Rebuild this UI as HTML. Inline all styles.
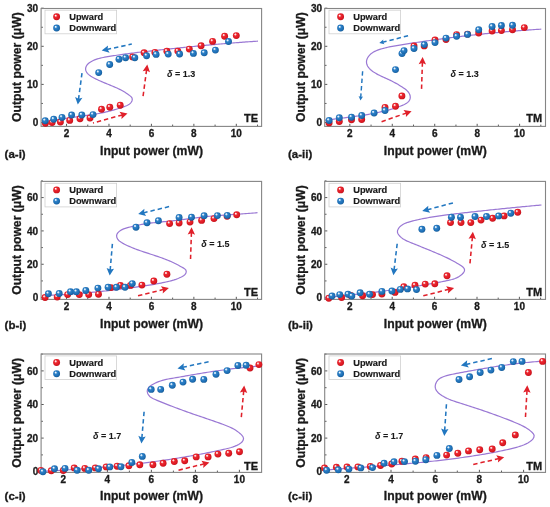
<!DOCTYPE html>
<html><head><meta charset="utf-8"><title>Optical bistability</title>
<style>
html,body{margin:0;padding:0;background:#fff;}
body{width:550px;height:507px;overflow:hidden;}
svg{display:block;filter:blur(0.3px);}
text{font-family:"Liberation Sans",sans-serif;fill:#1a1a1a;stroke:#1a1a1a;stroke-width:0.3px;}
</style></head><body>
<svg width="550" height="507" viewBox="0 0 550 507">
<defs>
<radialGradient id="gr" cx="0.45" cy="0.45" r="0.6" fx="0.34" fy="0.3">
<stop offset="0" stop-color="#ffffff"/><stop offset="0.16" stop-color="#fbc4c6"/><stop offset="0.34" stop-color="#ec2a32"/>
<stop offset="0.75" stop-color="#dc1822"/><stop offset="1" stop-color="#b80f18"/>
</radialGradient>
<radialGradient id="gb" cx="0.45" cy="0.45" r="0.6" fx="0.34" fy="0.3">
<stop offset="0" stop-color="#ffffff"/><stop offset="0.16" stop-color="#c4def4"/><stop offset="0.34" stop-color="#2f82c8"/>
<stop offset="0.75" stop-color="#1c6db4"/><stop offset="1" stop-color="#10548e"/>
</radialGradient>
</defs>
<rect width="550" height="507" fill="#fff"/>
<text x="66.54" y="137.1" font-size="10" text-anchor="middle" font-weight="bold">2</text>
<text x="108.98" y="137.1" font-size="10" text-anchor="middle" font-weight="bold">4</text>
<text x="151.42" y="137.1" font-size="10" text-anchor="middle" font-weight="bold">6</text>
<text x="193.86" y="137.1" font-size="10" text-anchor="middle" font-weight="bold">8</text>
<text x="236.3" y="137.1" font-size="10" text-anchor="middle" font-weight="bold">10</text>
<text x="38.2" y="126.1" font-size="10" text-anchor="end" font-weight="bold">0</text>
<text x="38.2" y="88" font-size="10" text-anchor="end" font-weight="bold">10</text>
<text x="38.2" y="49.9" font-size="10" text-anchor="end" font-weight="bold">20</text>
<text x="38.2" y="11.8" font-size="10" text-anchor="end" font-weight="bold">30</text>
<path d="M45.32 126.4v-1.8M66.54 126.4v-2.6M87.76 126.4v-1.8M108.98 126.4v-2.6M130.2 126.4v-1.8M151.42 126.4v-2.6M172.64 126.4v-1.8M193.86 126.4v-2.6M215.08 126.4v-1.8M236.3 126.4v-2.6M257.52 126.4v-1.8M41.1 122.5h2.6M41.1 103.45h1.8M41.1 84.4h2.6M41.1 65.35h1.8M41.1 46.3h2.6M41.1 27.25h1.8M41.1 8.2h2.6" stroke="#444" stroke-width="0.9" fill="none"/>
<rect x="41.1" y="8.5" width="220.5" height="117.9" fill="none" stroke="#858585" stroke-width="1.1"/>
<text x="151.55" y="154.8" font-size="12.2" text-anchor="middle" font-weight="bold">Input power (mW)</text>
<text x="0" y="0" font-size="12.2" font-weight="bold" text-anchor="middle" transform="translate(21.1 67.05) rotate(-90)">Output power (&#956;W)</text>
<text x="4.6" y="158" font-size="11.5" text-anchor="start" font-weight="bold">(a-i)</text>
<text x="244" y="122.3" font-size="11" text-anchor="start" font-weight="bold">TE</text>
<path d="M42 121.64 43.52 121.5 45.03 121.35 46.53 121.19 48.04 121.02 49.54 120.84 51.03 120.64 52.53 120.44 54.02 120.24 55.51 120.02 57 119.8 58.49 119.58 59.97 119.35 61.46 119.12 62.95 118.89 64.43 118.65 65.92 118.42 67.41 118.18 68.89 117.95 70.38 117.72 71.88 117.49 73.37 117.26 74.86 117.04 76.36 116.82 77.86 116.61 79.36 116.41 80.87 116.2 82.37 116 83.88 115.8 85.38 115.6 86.89 115.39 88.39 115.18 89.89 114.97 91.39 114.75 92.88 114.52 94.37 114.28 95.86 114.04 97.34 113.78 98.82 113.51 100.29 113.22 101.76 112.92 103.23 112.62 104.69 112.29 106.15 111.96 107.61 111.61 109.07 111.24 110.52 110.86 111.98 110.47 113.43 110.07 114.88 109.65 116.34 109.21 117.79 108.76 119.25 108.3 120.71 107.82 122.17 107.32 123.64 106.81 125.1 106.28 126.55 105.72 127.93 105.08 129.21 104.32 130.33 103.4 131.26 102.29 131.95 100.94 132.28 99.43 132.04 98.03 131.23 96.86 130.09 95.84 128.85 94.89 127.59 93.99 126.31 93.13 125.02 92.31 123.71 91.53 122.39 90.78 121.06 90.06 119.71 89.38 118.36 88.71 116.99 88.07 115.62 87.45 114.24 86.85 112.85 86.26 111.46 85.68 110.07 85.1 108.67 84.54 107.27 83.97 105.88 83.4 104.48 82.83 103.09 82.26 101.7 81.67 100.31 81.07 98.94 80.45 97.57 79.81 96.2 79.15 94.85 78.46 93.51 77.74 92.19 76.99 90.88 76.2 89.61 75.35 88.43 74.4 87.38 73.31 86.49 72.06 85.86 70.67 85.58 69.2 85.73 67.71 86.27 66.27 87.11 64.94 88.15 63.75 89.31 62.75 90.57 61.9 91.88 61.16 93.23 60.5 94.61 59.91 96.01 59.38 97.43 58.91 98.87 58.5 100.33 58.12 101.8 57.78 103.28 57.48 104.77 57.19 106.26 56.93 107.75 56.67 109.25 56.42 110.75 56.17 112.24 55.93 113.74 55.7 115.24 55.47 116.73 55.24 118.23 55.02 119.73 54.8 121.22 54.58 122.72 54.37 124.22 54.17 125.72 53.96 127.21 53.76 128.71 53.56 130.21 53.37 131.71 53.18 133.21 52.99 134.7 52.8 136.2 52.62 137.7 52.44 139.2 52.26 140.7 52.08 142.2 51.91 143.7 51.74 145.2 51.57 146.7 51.4 148.2 51.23 149.7 51.06 151.2 50.9 152.7 50.74 154.2 50.57 155.7 50.41 157.2 50.25 158.7 50.09 160.2 49.93 161.7 49.77 163.2 49.61 164.7 49.45 166.2 49.29 167.71 49.13 169.21 48.97 170.71 48.81 172.21 48.66 173.71 48.5 175.22 48.34 176.72 48.19 178.22 48.03 179.72 47.88 181.23 47.72 182.73 47.57 184.23 47.42 185.74 47.26 187.24 47.11 188.74 46.96 190.25 46.81 191.75 46.66 193.26 46.51 194.76 46.37 196.27 46.22 197.77 46.07 199.27 45.93 200.78 45.78 202.28 45.64 203.79 45.5 205.29 45.35 206.8 45.21 208.3 45.07 209.81 44.94 211.31 44.8 212.82 44.66 214.32 44.53 215.83 44.39 217.33 44.26 218.84 44.13 220.35 44 221.85 43.87 223.36 43.74 224.86 43.61 226.37 43.48 227.87 43.36 229.38 43.24 230.89 43.11 232.39 42.99 233.9 42.87 235.4 42.76 236.91 42.64 238.42 42.53 239.92 42.41 241.43 42.3 242.93 42.19 244.44 42.08 245.95 41.97 247.45 41.87 248.96 41.76 250.46 41.66 251.97 41.56 253.48 41.46 254.98 41.36 256.49 41.27 257.99 41.17" fill="none" stroke="#9a78d4" stroke-width="1.2"/>
<circle cx="45.4" cy="123.3" r="3.45" fill="url(#gr)"/>
<circle cx="52.1" cy="122.6" r="3.45" fill="url(#gr)"/>
<circle cx="60.4" cy="122" r="3.45" fill="url(#gr)"/>
<circle cx="69.7" cy="120.4" r="3.45" fill="url(#gr)"/>
<circle cx="80" cy="118.8" r="3.45" fill="url(#gr)"/>
<circle cx="90" cy="118" r="3.45" fill="url(#gr)"/>
<circle cx="101.5" cy="109.3" r="3.45" fill="url(#gr)"/>
<circle cx="109.8" cy="107.2" r="3.45" fill="url(#gr)"/>
<circle cx="120.2" cy="105.2" r="3.45" fill="url(#gr)"/>
<circle cx="132.6" cy="56.9" r="3.45" fill="url(#gr)"/>
<circle cx="144.1" cy="52.8" r="3.45" fill="url(#gr)"/>
<circle cx="154.9" cy="52.4" r="3.45" fill="url(#gr)"/>
<circle cx="166.9" cy="51.3" r="3.45" fill="url(#gr)"/>
<circle cx="177.8" cy="51.1" r="3.45" fill="url(#gr)"/>
<circle cx="189.3" cy="49.1" r="3.45" fill="url(#gr)"/>
<circle cx="201.1" cy="45.8" r="3.45" fill="url(#gr)"/>
<circle cx="212.6" cy="41.4" r="3.45" fill="url(#gr)"/>
<circle cx="224.6" cy="36.2" r="3.45" fill="url(#gr)"/>
<circle cx="236.3" cy="35.6" r="3.45" fill="url(#gr)"/>
<circle cx="45.2" cy="120.7" r="3.45" fill="url(#gb)"/>
<circle cx="53.7" cy="119.3" r="3.45" fill="url(#gb)"/>
<circle cx="62" cy="117.4" r="3.45" fill="url(#gb)"/>
<circle cx="71.6" cy="115" r="3.45" fill="url(#gb)"/>
<circle cx="81.8" cy="115" r="3.45" fill="url(#gb)"/>
<circle cx="93" cy="114.6" r="3.45" fill="url(#gb)"/>
<circle cx="98.7" cy="72.6" r="3.45" fill="url(#gb)"/>
<circle cx="109.7" cy="64.5" r="3.45" fill="url(#gb)"/>
<circle cx="119" cy="59.2" r="3.45" fill="url(#gb)"/>
<circle cx="125.6" cy="57.7" r="3.45" fill="url(#gb)"/>
<circle cx="134.8" cy="57.7" r="3.45" fill="url(#gb)"/>
<circle cx="146.6" cy="55.7" r="3.45" fill="url(#gb)"/>
<circle cx="156.1" cy="54.4" r="3.45" fill="url(#gb)"/>
<circle cx="168.2" cy="54.1" r="3.45" fill="url(#gb)"/>
<circle cx="179.6" cy="54" r="3.45" fill="url(#gb)"/>
<circle cx="193.4" cy="53.4" r="3.45" fill="url(#gb)"/>
<circle cx="204.2" cy="52.8" r="3.45" fill="url(#gb)"/>
<circle cx="215.4" cy="50.1" r="3.45" fill="url(#gb)"/>
<circle cx="228.5" cy="41.5" r="3.45" fill="url(#gb)"/>
<path d="M106.78 49.5L131.8 44.1" stroke="#2277c0" stroke-width="1.55" stroke-dasharray="4.4 3.0" fill="none"/>
<path d="M101.7 50.6L108.05 45.44L107.56 49.33L109.62 52.68Z" fill="#2277c0"/>
<path d="M78.49 99.45L82.2 71.6" stroke="#2277c0" stroke-width="1.55" stroke-dasharray="4.4 3.0" fill="none"/>
<path d="M77.8 104.6L75.1 96.88L78.59 98.65L82.43 97.85Z" fill="#2277c0"/>
<path d="M122.49 114.88L93 123" stroke="#e0202a" stroke-width="1.55" stroke-dasharray="4.4 3.0" fill="none"/>
<path d="M127.5 113.5L121.44 119.01L121.72 115.09L119.48 111.87Z" fill="#e0202a"/>
<path d="M146.61 69.75L142.9 97.4" stroke="#e0202a" stroke-width="1.55" stroke-dasharray="4.4 3.0" fill="none"/>
<path d="M147.3 64.6L150 72.33L146.5 70.55L142.66 71.34Z" fill="#e0202a"/>
<text x="167.1" y="77.2" font-size="9" font-weight="bold" style="stroke-width:0.08px"><tspan font-style="italic">&#948;</tspan> = 1.3</text>
<rect x="45" y="10.2" width="71.6" height="23.6" fill="#fff" stroke="#d0d0d0" stroke-width="0.8"/>
<circle cx="56.6" cy="16.8" r="3.45" fill="url(#gr)"/>
<circle cx="56.6" cy="28" r="3.45" fill="url(#gb)"/>
<text x="69.2" y="20.1" font-size="9.3" text-anchor="start" font-weight="bold" style="stroke-width:0.18px">Upward</text>
<text x="69.2" y="31.3" font-size="9.3" text-anchor="start" font-weight="bold" style="stroke-width:0.18px">Downward</text>
<text x="349.84" y="137.1" font-size="10" text-anchor="middle" font-weight="bold">2</text>
<text x="392.28" y="137.1" font-size="10" text-anchor="middle" font-weight="bold">4</text>
<text x="434.72" y="137.1" font-size="10" text-anchor="middle" font-weight="bold">6</text>
<text x="477.16" y="137.1" font-size="10" text-anchor="middle" font-weight="bold">8</text>
<text x="519.6" y="137.1" font-size="10" text-anchor="middle" font-weight="bold">10</text>
<text x="322.1" y="126.1" font-size="10" text-anchor="end" font-weight="bold">0</text>
<text x="322.1" y="88" font-size="10" text-anchor="end" font-weight="bold">10</text>
<text x="322.1" y="49.9" font-size="10" text-anchor="end" font-weight="bold">20</text>
<text x="322.1" y="11.8" font-size="10" text-anchor="end" font-weight="bold">30</text>
<path d="M328.62 126.4v-1.8M349.84 126.4v-2.6M371.06 126.4v-1.8M392.28 126.4v-2.6M413.5 126.4v-1.8M434.72 126.4v-2.6M455.94 126.4v-1.8M477.16 126.4v-2.6M498.38 126.4v-1.8M519.6 126.4v-2.6M540.82 126.4v-1.8M324.7 122.5h2.6M324.7 103.45h1.8M324.7 84.4h2.6M324.7 65.35h1.8M324.7 46.3h2.6M324.7 27.25h1.8M324.7 8.2h2.6" stroke="#444" stroke-width="0.9" fill="none"/>
<rect x="324.7" y="8.5" width="220.8" height="117.9" fill="none" stroke="#858585" stroke-width="1.1"/>
<text x="435.3" y="154.8" font-size="12.2" text-anchor="middle" font-weight="bold">Input power (mW)</text>
<text x="0" y="0" font-size="12.2" font-weight="bold" text-anchor="middle" transform="translate(305.4 67.05) rotate(-90)">Output power (&#956;W)</text>
<text x="288" y="158" font-size="11.5" text-anchor="start" font-weight="bold">(a-ii)</text>
<text x="526.3" y="122.3" font-size="11" text-anchor="start" font-weight="bold">TM</text>
<path d="M325.02 120.16 326.51 119.99 328 119.81 329.49 119.64 330.99 119.46 332.49 119.28 333.99 119.11 335.49 118.93 336.99 118.75 338.5 118.57 340.01 118.38 341.51 118.2 343.02 118.01 344.53 117.83 346.04 117.63 347.55 117.44 349.06 117.24 350.57 117.04 352.08 116.84 353.59 116.63 355.1 116.42 356.61 116.2 358.12 115.98 359.62 115.76 361.13 115.53 362.63 115.29 364.13 115.05 365.63 114.8 367.13 114.55 368.62 114.29 370.12 114.02 371.61 113.75 373.09 113.47 374.58 113.18 376.06 112.89 377.54 112.59 379.01 112.28 380.48 111.96 381.95 111.64 383.41 111.3 384.87 110.96 386.32 110.6 387.78 110.23 389.23 109.84 390.68 109.44 392.13 109.01 393.58 108.57 395.03 108.1 396.48 107.61 397.93 107.1 399.39 106.56 400.85 105.98 402.31 105.38 403.77 104.74 405.19 104.05 406.52 103.27 407.72 102.39 408.74 101.39 409.53 100.23 410.05 98.9 410.27 97.46 410.16 95.98 409.75 94.55 409.1 93.22 408.25 92 407.22 90.87 406.06 89.82 404.81 88.84 403.5 87.92 402.18 87.05 400.86 86.2 399.55 85.39 398.25 84.61 396.95 83.85 395.65 83.12 394.35 82.41 393.05 81.73 391.73 81.06 390.4 80.4 389.06 79.77 387.69 79.14 386.32 78.52 384.94 77.9 383.56 77.27 382.17 76.63 380.79 75.98 379.41 75.3 378.05 74.6 376.7 73.86 375.37 73.09 374.06 72.27 372.78 71.4 371.54 70.48 370.35 69.49 369.27 68.42 368.31 67.24 367.52 65.96 366.93 64.57 366.57 63.11 366.48 61.63 366.69 60.15 367.18 58.7 367.91 57.32 368.81 56.02 369.85 54.84 370.99 53.8 372.2 52.88 373.48 52.07 374.81 51.36 376.19 50.73 377.6 50.17 379.03 49.66 380.48 49.19 381.94 48.76 383.4 48.35 384.86 47.97 386.34 47.61 387.81 47.27 389.29 46.96 390.78 46.66 392.27 46.37 393.76 46.1 395.25 45.84 396.75 45.59 398.24 45.34 399.74 45.09 401.23 44.85 402.73 44.61 404.23 44.37 405.72 44.13 407.22 43.89 408.72 43.66 410.22 43.43 411.72 43.19 413.21 42.96 414.71 42.73 416.21 42.51 417.71 42.28 419.21 42.05 420.71 41.83 422.21 41.61 423.71 41.39 425.21 41.17 426.71 40.95 428.21 40.74 429.71 40.52 431.21 40.31 432.72 40.1 434.22 39.89 435.72 39.69 437.22 39.48 438.72 39.27 440.23 39.07 441.73 38.87 443.23 38.67 444.73 38.47 446.24 38.28 447.74 38.08 449.24 37.89 450.75 37.7 452.25 37.51 453.76 37.32 455.26 37.13 456.77 36.94 458.27 36.76 459.78 36.58 461.28 36.4 462.79 36.22 464.29 36.04 465.8 35.86 467.3 35.69 468.81 35.52 470.32 35.35 471.82 35.18 473.33 35.01 474.84 34.84 476.34 34.68 477.85 34.51 479.36 34.35 480.87 34.19 482.37 34.03 483.88 33.88 485.39 33.72 486.9 33.57 488.41 33.42 489.92 33.27 491.42 33.12 492.93 32.97 494.44 32.83 495.95 32.68 497.46 32.54 498.97 32.4 500.48 32.26 501.99 32.12 503.5 31.99 505.01 31.85 506.52 31.72 508.03 31.59 509.54 31.46 511.05 31.33 512.57 31.21 514.08 31.08 515.59 30.96 517.1 30.84 518.61 30.72 520.12 30.61 521.64 30.49 523.15 30.38 524.66 30.26 526.17 30.15 527.69 30.04 529.2 29.94 530.71 29.83 532.22 29.73 533.74 29.62 535.25 29.52 536.76 29.42 538.28 29.33 539.79 29.23 541.3 29.14" fill="none" stroke="#9a78d4" stroke-width="1.2"/>
<circle cx="329.1" cy="122.9" r="3.45" fill="url(#gr)"/>
<circle cx="339.3" cy="121.5" r="3.45" fill="url(#gr)"/>
<circle cx="351.5" cy="119.8" r="3.45" fill="url(#gr)"/>
<circle cx="361.7" cy="119.5" r="3.45" fill="url(#gr)"/>
<circle cx="385" cy="107.4" r="3.45" fill="url(#gr)"/>
<circle cx="395.5" cy="106.2" r="3.45" fill="url(#gr)"/>
<circle cx="401.9" cy="95.9" r="3.45" fill="url(#gr)"/>
<circle cx="414" cy="45.9" r="3.45" fill="url(#gr)"/>
<circle cx="424.2" cy="45.9" r="3.45" fill="url(#gr)"/>
<circle cx="435" cy="40" r="3.45" fill="url(#gr)"/>
<circle cx="446" cy="39.5" r="3.45" fill="url(#gr)"/>
<circle cx="456.6" cy="34.6" r="3.45" fill="url(#gr)"/>
<circle cx="467.5" cy="34.1" r="3.45" fill="url(#gr)"/>
<circle cx="478.7" cy="33" r="3.45" fill="url(#gr)"/>
<circle cx="492.1" cy="31" r="3.45" fill="url(#gr)"/>
<circle cx="501.4" cy="30.6" r="3.45" fill="url(#gr)"/>
<circle cx="512.5" cy="29.7" r="3.45" fill="url(#gr)"/>
<circle cx="524.3" cy="27.6" r="3.45" fill="url(#gr)"/>
<circle cx="329.1" cy="120.5" r="3.45" fill="url(#gb)"/>
<circle cx="339.3" cy="117.7" r="3.45" fill="url(#gb)"/>
<circle cx="351.5" cy="117.2" r="3.45" fill="url(#gb)"/>
<circle cx="361.7" cy="115.5" r="3.45" fill="url(#gb)"/>
<circle cx="374.1" cy="113" r="3.45" fill="url(#gb)"/>
<circle cx="385" cy="110.5" r="3.45" fill="url(#gb)"/>
<circle cx="395.5" cy="69.6" r="3.45" fill="url(#gb)"/>
<circle cx="402" cy="53.6" r="3.45" fill="url(#gb)"/>
<circle cx="404" cy="50.6" r="3.45" fill="url(#gb)"/>
<circle cx="414" cy="48.5" r="3.45" fill="url(#gb)"/>
<circle cx="424.3" cy="44.6" r="3.45" fill="url(#gb)"/>
<circle cx="435" cy="42.6" r="3.45" fill="url(#gb)"/>
<circle cx="446" cy="38.1" r="3.45" fill="url(#gb)"/>
<circle cx="456.6" cy="36.3" r="3.45" fill="url(#gb)"/>
<circle cx="467.5" cy="34.4" r="3.45" fill="url(#gb)"/>
<circle cx="478.7" cy="29.7" r="3.45" fill="url(#gb)"/>
<circle cx="492.1" cy="26.5" r="3.45" fill="url(#gb)"/>
<circle cx="501.4" cy="25.5" r="3.45" fill="url(#gb)"/>
<circle cx="512.5" cy="25.3" r="3.45" fill="url(#gb)"/>
<path d="M382.3 42.33L409 35.5" stroke="#2277c0" stroke-width="1.5" stroke-dasharray="4.4 3.0" fill="none"/>
<path d="M379.3 43.1L383.3 39.59L383.08 42.13L384.49 44.25Z" fill="#2277c0"/>
<path d="M360.7 97.81L362.7 70.3" stroke="#2277c0" stroke-width="1.45" stroke-dasharray="4.4 3.0" fill="none"/>
<path d="M360.5 100.6L358.6 96.07L360.76 97.01L363.03 96.39Z" fill="#2277c0"/>
<path d="M406.69 112.92L380.7 122" stroke="#e0202a" stroke-width="1.55" stroke-dasharray="4.4 3.0" fill="none"/>
<path d="M411.6 111.2L405.93 117.1L405.94 113.18L403.49 110.12Z" fill="#e0202a"/>
<path d="M422.43 62.3L421.5 90.2" stroke="#e0202a" stroke-width="1.55" stroke-dasharray="4.4 3.0" fill="none"/>
<path d="M422.6 57.1L426.06 64.52L422.4 63.1L418.66 64.27Z" fill="#e0202a"/>
<text x="450.4" y="76.6" font-size="9" font-weight="bold" style="stroke-width:0.08px"><tspan font-style="italic">&#948;</tspan> = 1.3</text>
<rect x="329" y="10.2" width="71.6" height="23.6" fill="#fff" stroke="#d0d0d0" stroke-width="0.8"/>
<circle cx="340.6" cy="16.8" r="3.45" fill="url(#gr)"/>
<circle cx="340.6" cy="28" r="3.45" fill="url(#gb)"/>
<text x="353.2" y="20.1" font-size="9.3" text-anchor="start" font-weight="bold" style="stroke-width:0.18px">Upward</text>
<text x="353.2" y="31.3" font-size="9.3" text-anchor="start" font-weight="bold" style="stroke-width:0.18px">Downward</text>
<text x="66.54" y="310.1" font-size="10" text-anchor="middle" font-weight="bold">2</text>
<text x="108.98" y="310.1" font-size="10" text-anchor="middle" font-weight="bold">4</text>
<text x="151.42" y="310.1" font-size="10" text-anchor="middle" font-weight="bold">6</text>
<text x="193.86" y="310.1" font-size="10" text-anchor="middle" font-weight="bold">8</text>
<text x="236.3" y="310.1" font-size="10" text-anchor="middle" font-weight="bold">10</text>
<text x="38.2" y="301.2" font-size="10" text-anchor="end" font-weight="bold">0</text>
<text x="38.2" y="267.86" font-size="10" text-anchor="end" font-weight="bold">20</text>
<text x="38.2" y="234.52" font-size="10" text-anchor="end" font-weight="bold">40</text>
<text x="38.2" y="201.18" font-size="10" text-anchor="end" font-weight="bold">60</text>
<path d="M45.32 299.4v-1.8M66.54 299.4v-2.6M87.76 299.4v-1.8M108.98 299.4v-2.6M130.2 299.4v-1.8M151.42 299.4v-2.6M172.64 299.4v-1.8M193.86 299.4v-2.6M215.08 299.4v-1.8M236.3 299.4v-2.6M257.52 299.4v-1.8M41.1 297.6h2.6M41.1 280.93h1.8M41.1 264.26h2.6M41.1 247.59h1.8M41.1 230.92h2.6M41.1 214.25h1.8M41.1 197.58h2.6M41.1 180.91h1.8" stroke="#444" stroke-width="0.9" fill="none"/>
<rect x="41.1" y="181.4" width="220.5" height="118" fill="none" stroke="#858585" stroke-width="1.1"/>
<text x="151.55" y="327.9" font-size="12.2" text-anchor="middle" font-weight="bold">Input power (mW)</text>
<text x="0" y="0" font-size="12.2" font-weight="bold" text-anchor="middle" transform="translate(21.1 240) rotate(-90)">Output power (&#956;W)</text>
<text x="4.6" y="329.1" font-size="11.5" text-anchor="start" font-weight="bold">(b-i)</text>
<text x="244" y="296.1" font-size="11" text-anchor="start" font-weight="bold">TE</text>
<path d="M41.99 295.6 43.7 295.54 45.42 295.48 47.14 295.41 48.85 295.34 50.56 295.27 52.28 295.19 53.99 295.11 55.7 295.02 57.41 294.93 59.12 294.83 60.83 294.74 62.54 294.64 64.25 294.53 65.96 294.42 67.66 294.31 69.37 294.2 71.07 294.08 72.78 293.95 74.48 293.83 76.19 293.7 77.89 293.56 79.6 293.43 81.3 293.29 83 293.15 84.7 293 86.4 292.85 88.11 292.7 89.81 292.54 91.51 292.38 93.21 292.22 94.91 292.05 96.61 291.88 98.31 291.71 100.01 291.53 101.71 291.36 103.41 291.17 105.11 290.99 106.8 290.8 108.5 290.61 110.2 290.42 111.9 290.22 113.6 290.02 115.3 289.82 117 289.61 118.7 289.4 120.4 289.19 122.1 288.98 123.8 288.76 125.5 288.54 127.2 288.32 128.9 288.1 130.6 287.87 132.3 287.64 134 287.41 135.7 287.17 137.4 286.94 139.1 286.69 140.8 286.45 142.5 286.2 144.2 285.95 145.9 285.69 147.59 285.42 149.28 285.15 150.97 284.88 152.66 284.59 154.35 284.3 156.02 284 157.7 283.69 159.37 283.37 161.04 283.04 162.7 282.7 164.35 282.35 166 281.99 167.64 281.62 169.28 281.23 170.91 280.81 172.54 280.36 174.18 279.87 175.81 279.33 177.46 278.72 179.1 278.05 180.76 277.31 182.4 276.47 183.9 275.51 185.13 274.4 185.96 273.11 186.25 271.6 185.87 270.07 184.76 268.85 183.21 267.89 181.6 267.02 180.07 266.15 178.58 265.31 177.08 264.49 175.57 263.71 174.04 262.95 172.5 262.23 170.95 261.53 169.38 260.85 167.81 260.2 166.23 259.57 164.64 258.95 163.04 258.36 161.43 257.77 159.82 257.2 158.2 256.65 156.57 256.1 154.95 255.56 153.32 255.02 151.69 254.49 150.05 253.96 148.42 253.43 146.79 252.9 145.16 252.37 143.53 251.83 141.91 251.29 140.29 250.73 138.67 250.16 137.06 249.58 135.46 248.98 133.87 248.37 132.28 247.73 130.71 247.07 129.15 246.39 127.6 245.68 126.06 244.94 124.53 244.17 123.02 243.37 121.53 242.53 120.1 241.6 118.78 240.5 117.67 239.13 116.88 237.52 116.59 235.86 116.92 234.3 117.77 232.87 119 231.6 120.47 230.51 122.04 229.61 123.63 228.9 125.22 228.34 126.83 227.86 128.45 227.43 130.08 227 131.72 226.59 133.38 226.19 135.04 225.81 136.71 225.44 138.39 225.09 140.08 224.75 141.77 224.43 143.46 224.14 145.16 223.86 146.85 223.6 148.55 223.36 150.25 223.14 151.95 222.93 153.65 222.74 155.35 222.55 157.05 222.38 158.75 222.21 160.45 222.04 162.15 221.88 163.86 221.72 165.56 221.56 167.26 221.4 168.96 221.23 170.66 221.06 172.36 220.88 174.06 220.69 175.76 220.49 177.46 220.28 179.15 220.06 180.85 219.84 182.55 219.62 184.24 219.39 185.94 219.16 187.64 218.92 189.33 218.69 191.03 218.46 192.73 218.23 194.42 218 196.12 217.78 197.82 217.57 199.52 217.36 201.22 217.16 202.92 216.97 204.62 216.78 206.32 216.61 208.02 216.44 209.73 216.27 211.43 216.12 213.13 215.97 214.84 215.82 216.54 215.68 218.25 215.54 219.95 215.41 221.66 215.28 223.37 215.16 225.07 215.03 226.78 214.91 228.49 214.79 230.19 214.68 231.9 214.56 233.61 214.45 235.32 214.33 237.02 214.22 238.73 214.1 240.44 213.99 242.14 213.87 243.85 213.75 245.56 213.63 247.27 213.51 248.97 213.38 250.68 213.25 252.38 213.12 254.09 212.98 255.79 212.84 257.5 212.69" fill="none" stroke="#9a78d4" stroke-width="1.2"/>
<circle cx="45.1" cy="297.5" r="3.45" fill="url(#gr)"/>
<circle cx="57.2" cy="297.1" r="3.45" fill="url(#gr)"/>
<circle cx="67.6" cy="294.6" r="3.45" fill="url(#gr)"/>
<circle cx="79.3" cy="294.6" r="3.45" fill="url(#gr)"/>
<circle cx="88.7" cy="294.6" r="3.45" fill="url(#gr)"/>
<circle cx="98.5" cy="294.2" r="3.45" fill="url(#gr)"/>
<circle cx="111" cy="287.6" r="3.45" fill="url(#gr)"/>
<circle cx="120.4" cy="285.4" r="3.45" fill="url(#gr)"/>
<circle cx="130.5" cy="285.4" r="3.45" fill="url(#gr)"/>
<circle cx="141.9" cy="285.1" r="3.45" fill="url(#gr)"/>
<circle cx="153.8" cy="281" r="3.45" fill="url(#gr)"/>
<circle cx="166.9" cy="274.2" r="3.45" fill="url(#gr)"/>
<circle cx="169.6" cy="223.6" r="3.45" fill="url(#gr)"/>
<circle cx="179.1" cy="223" r="3.45" fill="url(#gr)"/>
<circle cx="190" cy="222.1" r="3.45" fill="url(#gr)"/>
<circle cx="201.6" cy="220.4" r="3.45" fill="url(#gr)"/>
<circle cx="214" cy="218.6" r="3.45" fill="url(#gr)"/>
<circle cx="227.1" cy="216.3" r="3.45" fill="url(#gr)"/>
<circle cx="236.7" cy="214.8" r="3.45" fill="url(#gr)"/>
<circle cx="48.4" cy="293.7" r="3.45" fill="url(#gb)"/>
<circle cx="59.2" cy="293.5" r="3.45" fill="url(#gb)"/>
<circle cx="70.5" cy="291.7" r="3.45" fill="url(#gb)"/>
<circle cx="76.4" cy="291.7" r="3.45" fill="url(#gb)"/>
<circle cx="85.8" cy="290.5" r="3.45" fill="url(#gb)"/>
<circle cx="97.9" cy="288.1" r="3.45" fill="url(#gb)"/>
<circle cx="108.1" cy="287.3" r="3.45" fill="url(#gb)"/>
<circle cx="116.4" cy="287.3" r="3.45" fill="url(#gb)"/>
<circle cx="125" cy="287.3" r="3.45" fill="url(#gb)"/>
<circle cx="132.3" cy="283.6" r="3.45" fill="url(#gb)"/>
<circle cx="136" cy="227.2" r="3.45" fill="url(#gb)"/>
<circle cx="147" cy="222.7" r="3.45" fill="url(#gb)"/>
<circle cx="158.4" cy="220.7" r="3.45" fill="url(#gb)"/>
<circle cx="179.1" cy="217.5" r="3.45" fill="url(#gb)"/>
<circle cx="191.5" cy="217.2" r="3.45" fill="url(#gb)"/>
<circle cx="204.1" cy="215.7" r="3.45" fill="url(#gb)"/>
<circle cx="217.4" cy="215.6" r="3.45" fill="url(#gb)"/>
<circle cx="227.3" cy="215.4" r="3.45" fill="url(#gb)"/>
<path d="M143.25 212.88L169.6 206.5" stroke="#2277c0" stroke-width="1.55" stroke-dasharray="4.4 3.0" fill="none"/>
<path d="M138.2 214.1L144.42 208.79L144.03 212.69L146.17 215.98Z" fill="#2277c0"/>
<path d="M110.14 270.42L112.5 242.7" stroke="#2277c0" stroke-width="1.55" stroke-dasharray="4.4 3.0" fill="none"/>
<path d="M109.7 275.6L106.63 268.01L110.21 269.62L114.01 268.64Z" fill="#2277c0"/>
<path d="M163.85 289.36L137.6 295.9" stroke="#e0202a" stroke-width="1.55" stroke-dasharray="4.4 3.0" fill="none"/>
<path d="M168.9 288.1L162.71 293.46L163.08 289.55L160.92 286.27Z" fill="#e0202a"/>
<path d="M191.43 232.5L190.5 260.4" stroke="#e0202a" stroke-width="1.55" stroke-dasharray="4.4 3.0" fill="none"/>
<path d="M191.6 227.3L195.06 234.72L191.4 233.3L187.66 234.47Z" fill="#e0202a"/>
<text x="201.3" y="247.3" font-size="9" font-weight="bold" style="stroke-width:0.08px"><tspan font-style="italic">&#948;</tspan> = 1.5</text>
<rect x="45" y="183.3" width="71.6" height="23.6" fill="#fff" stroke="#d0d0d0" stroke-width="0.8"/>
<circle cx="56.6" cy="189.9" r="3.45" fill="url(#gr)"/>
<circle cx="56.6" cy="201.1" r="3.45" fill="url(#gb)"/>
<text x="69.2" y="193.2" font-size="9.3" text-anchor="start" font-weight="bold" style="stroke-width:0.18px">Upward</text>
<text x="69.2" y="204.4" font-size="9.3" text-anchor="start" font-weight="bold" style="stroke-width:0.18px">Downward</text>
<text x="349.8" y="310.1" font-size="10" text-anchor="middle" font-weight="bold">2</text>
<text x="392.2" y="310.1" font-size="10" text-anchor="middle" font-weight="bold">4</text>
<text x="434.6" y="310.1" font-size="10" text-anchor="middle" font-weight="bold">6</text>
<text x="477" y="310.1" font-size="10" text-anchor="middle" font-weight="bold">8</text>
<text x="519.4" y="310.1" font-size="10" text-anchor="middle" font-weight="bold">10</text>
<text x="322.1" y="301.2" font-size="10" text-anchor="end" font-weight="bold">0</text>
<text x="322.1" y="267.86" font-size="10" text-anchor="end" font-weight="bold">20</text>
<text x="322.1" y="234.52" font-size="10" text-anchor="end" font-weight="bold">40</text>
<text x="322.1" y="201.18" font-size="10" text-anchor="end" font-weight="bold">60</text>
<path d="M328.6 299.4v-1.8M349.8 299.4v-2.6M371 299.4v-1.8M392.2 299.4v-2.6M413.4 299.4v-1.8M434.6 299.4v-2.6M455.8 299.4v-1.8M477 299.4v-2.6M498.2 299.4v-1.8M519.4 299.4v-2.6M540.6 299.4v-1.8M324.7 297.6h2.6M324.7 280.93h1.8M324.7 264.26h2.6M324.7 247.59h1.8M324.7 230.92h2.6M324.7 214.25h1.8M324.7 197.58h2.6M324.7 180.91h1.8" stroke="#444" stroke-width="0.9" fill="none"/>
<rect x="324.7" y="181.4" width="220.8" height="118" fill="none" stroke="#858585" stroke-width="1.1"/>
<text x="435.3" y="327.9" font-size="12.2" text-anchor="middle" font-weight="bold">Input power (mW)</text>
<text x="0" y="0" font-size="12.2" font-weight="bold" text-anchor="middle" transform="translate(305.4 240) rotate(-90)">Output power (&#956;W)</text>
<text x="288" y="329.1" font-size="11.5" text-anchor="start" font-weight="bold">(b-ii)</text>
<text x="526.3" y="296.1" font-size="11" text-anchor="start" font-weight="bold">TM</text>
<path d="M324.96 297.61 326.67 297.44 328.38 297.27 330.09 297.1 331.79 296.93 333.5 296.76 335.2 296.58 336.91 296.41 338.61 296.23 340.31 296.06 342.01 295.88 343.71 295.7 345.41 295.52 347.11 295.34 348.81 295.16 350.51 294.98 352.2 294.79 353.9 294.61 355.59 294.42 357.29 294.23 358.98 294.04 360.67 293.85 362.37 293.66 364.06 293.47 365.75 293.27 367.44 293.07 369.13 292.87 370.82 292.67 372.51 292.46 374.2 292.26 375.89 292.05 377.57 291.84 379.26 291.63 380.95 291.41 382.64 291.2 384.32 290.98 386.01 290.76 387.69 290.53 389.38 290.3 391.07 290.07 392.75 289.84 394.44 289.61 396.12 289.37 397.81 289.13 399.49 288.89 401.18 288.64 402.86 288.39 404.55 288.14 406.23 287.89 407.92 287.63 409.6 287.37 411.29 287.1 412.98 286.83 414.66 286.56 416.35 286.29 418.03 286.01 419.72 285.73 421.41 285.44 423.09 285.15 424.78 284.86 426.47 284.57 428.16 284.27 429.85 283.96 431.54 283.65 433.22 283.34 434.91 283.03 436.6 282.71 438.3 282.38 439.99 282.05 441.68 281.72 443.37 281.38 445.07 281.04 446.76 280.7 448.45 280.34 450.13 279.96 451.78 279.53 453.41 279.06 455 278.51 456.54 277.88 458.03 277.16 459.45 276.32 460.8 275.36 462.06 274.26 463.24 273 464.22 271.59 464.6 270.07 464.17 268.54 463.11 267.2 461.65 266.04 460.04 265.01 458.48 264.06 457 263.17 455.56 262.32 454.13 261.5 452.68 260.7 451.21 259.92 449.72 259.15 448.2 258.39 446.66 257.65 445.11 256.92 443.55 256.21 441.98 255.5 440.41 254.8 438.83 254.11 437.25 253.44 435.67 252.76 434.1 252.1 432.52 251.44 430.95 250.79 429.38 250.14 427.81 249.49 426.23 248.85 424.66 248.21 423.09 247.57 421.51 246.94 419.94 246.3 418.36 245.66 416.78 245.02 415.2 244.39 413.61 243.74 412.03 243.1 410.43 242.45 408.84 241.79 407.26 241.1 405.72 240.36 404.21 239.56 402.77 238.66 401.4 237.65 400.12 236.5 398.95 235.2 397.97 233.75 397.43 232.18 397.53 230.55 398.22 228.94 399.27 227.46 400.48 226.19 401.8 225.12 403.22 224.22 404.73 223.47 406.3 222.84 407.91 222.3 409.56 221.82 411.22 221.37 412.88 220.95 414.55 220.54 416.22 220.14 417.89 219.76 419.56 219.39 421.23 219.03 422.9 218.69 424.58 218.36 426.26 218.04 427.93 217.73 429.61 217.44 431.3 217.15 432.98 216.87 434.66 216.6 436.35 216.34 438.03 216.09 439.72 215.84 441.41 215.61 443.1 215.37 444.79 215.15 446.48 214.93 448.17 214.71 449.86 214.5 451.55 214.3 453.25 214.09 454.94 213.89 456.63 213.69 458.33 213.5 460.02 213.3 461.72 213.11 463.41 212.92 465.11 212.72 466.8 212.53 468.5 212.34 470.19 212.15 471.89 211.96 473.59 211.78 475.28 211.59 476.98 211.4 478.67 211.22 480.37 211.03 482.07 210.85 483.76 210.67 485.46 210.49 487.16 210.3 488.85 210.12 490.55 209.95 492.25 209.77 493.95 209.59 495.64 209.41 497.34 209.24 499.04 209.06 500.74 208.89 502.44 208.72 504.13 208.55 505.83 208.37 507.53 208.21 509.23 208.04 510.93 207.87 512.62 207.7 514.32 207.53 516.02 207.37 517.72 207.21 519.42 207.04 521.12 206.88 522.81 206.72 524.51 206.56 526.21 206.4 527.91 206.24 529.61 206.08 531.31 205.93 533.01 205.77 534.7 205.62 536.4 205.46 538.1 205.31 539.8 205.16 541.5 205.01" fill="none" stroke="#9a78d4" stroke-width="1.2"/>
<circle cx="328.8" cy="298.3" r="3.45" fill="url(#gr)"/>
<circle cx="341.6" cy="297.5" r="3.45" fill="url(#gr)"/>
<circle cx="350.6" cy="295.4" r="3.45" fill="url(#gr)"/>
<circle cx="362.6" cy="295.7" r="3.45" fill="url(#gr)"/>
<circle cx="372.5" cy="294.6" r="3.45" fill="url(#gr)"/>
<circle cx="381.9" cy="294" r="3.45" fill="url(#gr)"/>
<circle cx="395" cy="292.4" r="3.45" fill="url(#gr)"/>
<circle cx="403.8" cy="286.7" r="3.45" fill="url(#gr)"/>
<circle cx="415" cy="285.3" r="3.45" fill="url(#gr)"/>
<circle cx="425.2" cy="284.1" r="3.45" fill="url(#gr)"/>
<circle cx="434.8" cy="283.8" r="3.45" fill="url(#gr)"/>
<circle cx="447" cy="275.8" r="3.45" fill="url(#gr)"/>
<circle cx="450.5" cy="222.6" r="3.45" fill="url(#gr)"/>
<circle cx="461" cy="222.6" r="3.45" fill="url(#gr)"/>
<circle cx="470.8" cy="222.6" r="3.45" fill="url(#gr)"/>
<circle cx="481" cy="220.1" r="3.45" fill="url(#gr)"/>
<circle cx="492.6" cy="218.3" r="3.45" fill="url(#gr)"/>
<circle cx="504.1" cy="215.9" r="3.45" fill="url(#gr)"/>
<circle cx="517.7" cy="212.3" r="3.45" fill="url(#gr)"/>
<circle cx="332" cy="296" r="3.45" fill="url(#gb)"/>
<circle cx="339.7" cy="294.6" r="3.45" fill="url(#gb)"/>
<circle cx="348" cy="294.3" r="3.45" fill="url(#gb)"/>
<circle cx="351.8" cy="296" r="3.45" fill="url(#gb)"/>
<circle cx="360.1" cy="292.8" r="3.45" fill="url(#gb)"/>
<circle cx="369.5" cy="294.3" r="3.45" fill="url(#gb)"/>
<circle cx="381.9" cy="291.4" r="3.45" fill="url(#gb)"/>
<circle cx="391.9" cy="291" r="3.45" fill="url(#gb)"/>
<circle cx="400.3" cy="289.4" r="3.45" fill="url(#gb)"/>
<circle cx="407.5" cy="288.9" r="3.45" fill="url(#gb)"/>
<circle cx="416.5" cy="289.6" r="3.45" fill="url(#gb)"/>
<circle cx="421.9" cy="229.3" r="3.45" fill="url(#gb)"/>
<circle cx="436.7" cy="228.3" r="3.45" fill="url(#gb)"/>
<circle cx="451.4" cy="217.2" r="3.45" fill="url(#gb)"/>
<circle cx="460.5" cy="217.2" r="3.45" fill="url(#gb)"/>
<circle cx="475" cy="216.5" r="3.45" fill="url(#gb)"/>
<circle cx="486.5" cy="216.5" r="3.45" fill="url(#gb)"/>
<circle cx="498.6" cy="215.9" r="3.45" fill="url(#gb)"/>
<circle cx="510.8" cy="213.2" r="3.45" fill="url(#gb)"/>
<path d="M427.23 209.77L453.5 202.8" stroke="#2277c0" stroke-width="1.55" stroke-dasharray="4.4 3.0" fill="none"/>
<path d="M422.2 211.1L428.31 205.65L428 209.56L430.2 212.81Z" fill="#2277c0"/>
<path d="M394.02 270.14L397.3 242.8" stroke="#2277c0" stroke-width="1.55" stroke-dasharray="4.4 3.0" fill="none"/>
<path d="M393.4 275.3L390.6 267.61L394.11 269.34L397.94 268.49Z" fill="#2277c0"/>
<path d="M449.06 289.28L422.7 296" stroke="#e0202a" stroke-width="1.55" stroke-dasharray="4.4 3.0" fill="none"/>
<path d="M454.1 288L447.94 293.39L448.29 289.48L446.11 286.22Z" fill="#e0202a"/>
<path d="M472.42 236.88L469.9 264.2" stroke="#e0202a" stroke-width="1.55" stroke-dasharray="4.4 3.0" fill="none"/>
<path d="M472.9 231.7L475.91 239.31L472.35 237.67L468.54 238.63Z" fill="#e0202a"/>
<text x="481" y="247.5" font-size="9" font-weight="bold" style="stroke-width:0.08px"><tspan font-style="italic">&#948;</tspan> = 1.5</text>
<rect x="329" y="183.3" width="71.6" height="23.6" fill="#fff" stroke="#d0d0d0" stroke-width="0.8"/>
<circle cx="340.6" cy="189.9" r="3.45" fill="url(#gr)"/>
<circle cx="340.6" cy="201.1" r="3.45" fill="url(#gb)"/>
<text x="353.2" y="193.2" font-size="9.3" text-anchor="start" font-weight="bold" style="stroke-width:0.18px">Upward</text>
<text x="353.2" y="204.4" font-size="9.3" text-anchor="start" font-weight="bold" style="stroke-width:0.18px">Downward</text>
<text x="63.4" y="483.1" font-size="10" text-anchor="middle" font-weight="bold">2</text>
<text x="107.4" y="483.1" font-size="10" text-anchor="middle" font-weight="bold">4</text>
<text x="151.4" y="483.1" font-size="10" text-anchor="middle" font-weight="bold">6</text>
<text x="195.4" y="483.1" font-size="10" text-anchor="middle" font-weight="bold">8</text>
<text x="239.4" y="483.1" font-size="10" text-anchor="middle" font-weight="bold">10</text>
<text x="38.2" y="475.3" font-size="10" text-anchor="end" font-weight="bold">0</text>
<text x="38.2" y="441.7" font-size="10" text-anchor="end" font-weight="bold">20</text>
<text x="38.2" y="408.1" font-size="10" text-anchor="end" font-weight="bold">40</text>
<text x="38.2" y="374.5" font-size="10" text-anchor="end" font-weight="bold">60</text>
<path d="M63.4 472.4v-2.6M85.4 472.4v-1.8M107.4 472.4v-2.6M129.4 472.4v-1.8M151.4 472.4v-2.6M173.4 472.4v-1.8M195.4 472.4v-2.6M217.4 472.4v-1.8M239.4 472.4v-2.6M41.1 471.7h2.6M41.1 454.9h1.8M41.1 438.1h2.6M41.1 421.3h1.8M41.1 404.5h2.6M41.1 387.7h1.8M41.1 370.9h2.6M41.1 354.1h1.8" stroke="#444" stroke-width="0.9" fill="none"/>
<rect x="41.1" y="354" width="220.5" height="118.4" fill="none" stroke="#858585" stroke-width="1.1"/>
<text x="151.55" y="499.9" font-size="12.2" text-anchor="middle" font-weight="bold">Input power (mW)</text>
<text x="0" y="0" font-size="12.2" font-weight="bold" text-anchor="middle" transform="translate(21.1 412.8) rotate(-90)">Output power (&#956;W)</text>
<text x="4.6" y="500.4" font-size="11.5" text-anchor="start" font-weight="bold">(c-i)</text>
<text x="244" y="470" font-size="11" text-anchor="start" font-weight="bold">TE</text>
<path d="M41.5 471.41 43.5 471.31 45.49 471.2 47.48 471.09 49.47 470.98 51.46 470.86 53.45 470.75 55.44 470.63 57.44 470.51 59.43 470.39 61.42 470.27 63.41 470.15 65.4 470.02 67.39 469.89 69.38 469.76 71.37 469.63 73.37 469.5 75.36 469.36 77.35 469.22 79.34 469.08 81.33 468.93 83.32 468.79 85.31 468.64 87.3 468.49 89.29 468.33 91.28 468.18 93.27 468.02 95.26 467.85 97.25 467.69 99.24 467.52 101.22 467.35 103.21 467.18 105.2 467 107.19 466.82 109.18 466.64 111.16 466.46 113.15 466.27 115.14 466.08 117.12 465.88 119.11 465.68 121.09 465.48 123.08 465.28 125.06 465.07 127.05 464.86 129.03 464.64 131.01 464.42 133 464.2 134.98 463.97 136.96 463.75 138.94 463.51 140.93 463.28 142.91 463.04 144.89 462.79 146.87 462.54 148.85 462.29 150.82 462.03 152.8 461.77 154.78 461.51 156.76 461.24 158.73 460.97 160.71 460.69 162.69 460.41 164.66 460.13 166.64 459.84 168.61 459.54 170.58 459.24 172.55 458.94 174.53 458.63 176.5 458.32 178.47 458 180.44 457.68 182.41 457.36 184.37 457.03 186.34 456.69 188.31 456.36 190.27 456.01 192.24 455.66 194.2 455.31 196.16 454.95 198.12 454.59 200.09 454.22 202.05 453.85 204 453.47 205.96 453.09 207.92 452.7 209.88 452.31 211.83 451.92 213.78 451.51 215.74 451.11 217.69 450.7 219.64 450.28 221.59 449.86 223.54 449.43 225.48 448.99 227.42 448.53 229.35 448.03 231.26 447.48 233.16 446.85 235.03 446.15 236.87 445.35 238.68 444.44 240.43 443.38 241.97 442.06 243.11 440.34 243.53 438.42 242.98 436.67 241.75 435.1 240.26 433.68 238.71 432.38 237.09 431.19 235.42 430.09 233.7 429.08 231.94 428.15 230.14 427.29 228.32 426.48 226.47 425.71 224.61 424.98 222.74 424.27 220.86 423.58 218.98 422.89 217.09 422.22 215.2 421.56 213.31 420.9 211.42 420.25 209.53 419.61 207.64 418.96 205.75 418.33 203.85 417.69 201.96 417.05 200.07 416.41 198.19 415.77 196.3 415.12 194.42 414.47 192.54 413.82 190.67 413.16 188.79 412.5 186.92 411.83 185.05 411.16 183.17 410.49 181.31 409.81 179.44 409.12 177.57 408.43 175.7 407.73 173.84 407.02 171.97 406.31 170.11 405.59 168.25 404.87 166.38 404.14 164.52 403.4 162.66 402.65 160.79 401.89 158.93 401.13 157.06 400.36 155.2 399.57 153.35 398.76 151.61 397.83 150.03 396.69 148.7 395.25 147.71 393.45 147.22 391.45 147.44 389.6 148.3 387.98 149.65 386.57 151.3 385.32 153.09 384.23 154.91 383.25 156.76 382.4 158.62 381.64 160.51 380.98 162.41 380.4 164.33 379.89 166.26 379.44 168.2 379.03 170.15 378.66 172.1 378.31 174.06 377.98 176.02 377.64 177.98 377.31 179.95 376.97 181.91 376.63 183.88 376.29 185.85 375.95 187.81 375.6 189.78 375.26 191.75 374.92 193.72 374.58 195.69 374.24 197.66 373.9 199.63 373.57 201.6 373.24 203.58 372.91 205.55 372.59 207.52 372.28 209.49 371.97 211.47 371.67 213.44 371.37 215.42 371.08 217.39 370.79 219.37 370.52 221.34 370.24 223.32 369.97 225.29 369.71 227.27 369.46 229.25 369.21 231.23 368.96 233.21 368.72 235.19 368.49 237.17 368.26 239.15 368.04 241.13 367.82 243.11 367.61 245.1 367.4 247.08 367.2 249.07 367 251.06 366.81 253.04 366.63 255.03 366.44 257.02 366.27 259.02 366.1 261.01 365.93" fill="none" stroke="#9a78d4" stroke-width="1.2"/>
<circle cx="40.9" cy="470.5" r="3.45" fill="url(#gr)"/>
<circle cx="51.3" cy="470.8" r="3.45" fill="url(#gr)"/>
<circle cx="63.3" cy="470.5" r="3.45" fill="url(#gr)"/>
<circle cx="74.2" cy="467.9" r="3.45" fill="url(#gr)"/>
<circle cx="84.8" cy="468.4" r="3.45" fill="url(#gr)"/>
<circle cx="95.3" cy="467.9" r="3.45" fill="url(#gr)"/>
<circle cx="106.2" cy="466.9" r="3.45" fill="url(#gr)"/>
<circle cx="117.1" cy="466.2" r="3.45" fill="url(#gr)"/>
<circle cx="128.9" cy="465.8" r="3.45" fill="url(#gr)"/>
<circle cx="139.8" cy="464.8" r="3.45" fill="url(#gr)"/>
<circle cx="152.9" cy="464.8" r="3.45" fill="url(#gr)"/>
<circle cx="163.1" cy="463.3" r="3.45" fill="url(#gr)"/>
<circle cx="174.3" cy="461.5" r="3.45" fill="url(#gr)"/>
<circle cx="184.7" cy="460.8" r="3.45" fill="url(#gr)"/>
<circle cx="196.2" cy="456.9" r="3.45" fill="url(#gr)"/>
<circle cx="208.1" cy="456.9" r="3.45" fill="url(#gr)"/>
<circle cx="217.9" cy="454.1" r="3.45" fill="url(#gr)"/>
<circle cx="228.7" cy="453.3" r="3.45" fill="url(#gr)"/>
<circle cx="239.5" cy="451.8" r="3.45" fill="url(#gr)"/>
<circle cx="250" cy="368" r="3.45" fill="url(#gr)"/>
<circle cx="258.9" cy="364.6" r="3.45" fill="url(#gr)"/>
<circle cx="42.9" cy="471.7" r="3.45" fill="url(#gb)"/>
<circle cx="54.5" cy="468.8" r="3.45" fill="url(#gb)"/>
<circle cx="65" cy="468.4" r="3.45" fill="url(#gb)"/>
<circle cx="77.1" cy="470.3" r="3.45" fill="url(#gb)"/>
<circle cx="88.7" cy="470.3" r="3.45" fill="url(#gb)"/>
<circle cx="98.5" cy="468.8" r="3.45" fill="url(#gb)"/>
<circle cx="109.8" cy="466.9" r="3.45" fill="url(#gb)"/>
<circle cx="120.9" cy="466.8" r="3.45" fill="url(#gb)"/>
<circle cx="131.8" cy="462.5" r="3.45" fill="url(#gb)"/>
<circle cx="142.3" cy="456.4" r="3.45" fill="url(#gb)"/>
<circle cx="151.2" cy="389.4" r="3.45" fill="url(#gb)"/>
<circle cx="160.7" cy="389.4" r="3.45" fill="url(#gb)"/>
<circle cx="172.3" cy="385.3" r="3.45" fill="url(#gb)"/>
<circle cx="183" cy="382.1" r="3.45" fill="url(#gb)"/>
<circle cx="192.6" cy="379.3" r="3.45" fill="url(#gb)"/>
<circle cx="203.8" cy="379.4" r="3.45" fill="url(#gb)"/>
<circle cx="216" cy="374.2" r="3.45" fill="url(#gb)"/>
<circle cx="227.1" cy="370.6" r="3.45" fill="url(#gb)"/>
<circle cx="237.9" cy="365.5" r="3.45" fill="url(#gb)"/>
<circle cx="246.1" cy="365.3" r="3.45" fill="url(#gb)"/>
<path d="M182.58 367.31L208.8 361.7" stroke="#2277c0" stroke-width="1.55" stroke-dasharray="4.4 3.0" fill="none"/>
<path d="M177.5 368.4L183.86 363.25L183.37 367.14L185.41 370.49Z" fill="#2277c0"/>
<path d="M141.84 438.22L144.2 410.4" stroke="#2277c0" stroke-width="1.55" stroke-dasharray="4.4 3.0" fill="none"/>
<path d="M141.4 443.4L138.33 435.81L141.91 437.42L145.7 436.44Z" fill="#2277c0"/>
<path d="M204.35 463.84L178.4 470.2" stroke="#e0202a" stroke-width="1.55" stroke-dasharray="4.4 3.0" fill="none"/>
<path d="M209.4 462.6L203.19 467.93L203.57 464.03L201.43 460.74Z" fill="#e0202a"/>
<path d="M243.73 390.68L241.2 418.4" stroke="#e0202a" stroke-width="1.55" stroke-dasharray="4.4 3.0" fill="none"/>
<path d="M244.2 385.5L247.22 393.11L243.66 391.48L239.85 392.43Z" fill="#e0202a"/>
<text x="93" y="438.6" font-size="9" font-weight="bold" style="stroke-width:0.08px"><tspan font-style="italic">&#948;</tspan> = 1.7</text>
<rect x="45" y="355.9" width="71.6" height="23.6" fill="#fff" stroke="#d0d0d0" stroke-width="0.8"/>
<circle cx="56.6" cy="362.5" r="3.45" fill="url(#gr)"/>
<circle cx="56.6" cy="373.7" r="3.45" fill="url(#gb)"/>
<text x="69.2" y="365.8" font-size="9.3" text-anchor="start" font-weight="bold" style="stroke-width:0.18px">Upward</text>
<text x="69.2" y="377" font-size="9.3" text-anchor="start" font-weight="bold" style="stroke-width:0.18px">Downward</text>
<text x="346.8" y="483.1" font-size="10" text-anchor="middle" font-weight="bold">2</text>
<text x="391" y="483.1" font-size="10" text-anchor="middle" font-weight="bold">4</text>
<text x="435.2" y="483.1" font-size="10" text-anchor="middle" font-weight="bold">6</text>
<text x="479.4" y="483.1" font-size="10" text-anchor="middle" font-weight="bold">8</text>
<text x="523.6" y="483.1" font-size="10" text-anchor="middle" font-weight="bold">10</text>
<text x="322.1" y="475.3" font-size="10" text-anchor="end" font-weight="bold">0</text>
<text x="322.1" y="441.7" font-size="10" text-anchor="end" font-weight="bold">20</text>
<text x="322.1" y="408.1" font-size="10" text-anchor="end" font-weight="bold">40</text>
<text x="322.1" y="374.5" font-size="10" text-anchor="end" font-weight="bold">60</text>
<path d="M346.8 472.4v-2.6M368.9 472.4v-1.8M391 472.4v-2.6M413.1 472.4v-1.8M435.2 472.4v-2.6M457.3 472.4v-1.8M479.4 472.4v-2.6M501.5 472.4v-1.8M523.6 472.4v-2.6M324.7 471.7h2.6M324.7 454.9h1.8M324.7 438.1h2.6M324.7 421.3h1.8M324.7 404.5h2.6M324.7 387.7h1.8M324.7 370.9h2.6M324.7 354.1h1.8" stroke="#444" stroke-width="0.9" fill="none"/>
<rect x="324.7" y="354" width="220.8" height="118.4" fill="none" stroke="#858585" stroke-width="1.1"/>
<text x="435.3" y="499.9" font-size="12.2" text-anchor="middle" font-weight="bold">Input power (mW)</text>
<text x="0" y="0" font-size="12.2" font-weight="bold" text-anchor="middle" transform="translate(305.4 412.8) rotate(-90)">Output power (&#956;W)</text>
<text x="288" y="500.4" font-size="11.5" text-anchor="start" font-weight="bold">(c-ii)</text>
<text x="526.3" y="470" font-size="11" text-anchor="start" font-weight="bold">TM</text>
<path d="M325.01 470.06 327.03 469.91 329.06 469.75 331.08 469.6 333.11 469.45 335.14 469.3 337.16 469.15 339.19 469 341.22 468.85 343.24 468.7 345.27 468.55 347.3 468.4 349.33 468.26 351.35 468.11 353.38 467.96 355.41 467.81 357.44 467.66 359.46 467.52 361.49 467.37 363.52 467.22 365.54 467.07 367.57 466.92 369.6 466.77 371.63 466.61 373.65 466.46 375.68 466.31 377.71 466.15 379.73 466 381.76 465.84 383.79 465.68 385.81 465.52 387.84 465.36 389.87 465.2 391.89 465.03 393.92 464.86 395.94 464.69 397.97 464.52 399.99 464.35 402.02 464.18 404.04 464 406.07 463.82 408.09 463.64 410.12 463.45 412.14 463.27 414.16 463.08 416.19 462.88 418.21 462.69 420.23 462.49 422.25 462.29 424.28 462.09 426.3 461.88 428.32 461.67 430.34 461.45 432.36 461.23 434.38 461.01 436.4 460.79 438.42 460.56 440.44 460.33 442.46 460.09 444.47 459.85 446.49 459.61 448.51 459.36 450.53 459.1 452.54 458.85 454.56 458.58 456.57 458.32 458.59 458.05 460.6 457.77 462.61 457.49 464.63 457.2 466.64 456.91 468.65 456.62 470.66 456.32 472.67 456.01 474.68 455.7 476.69 455.38 478.7 455.06 480.71 454.73 482.72 454.39 484.72 454.05 486.72 453.7 488.73 453.34 490.73 452.98 492.72 452.61 494.72 452.23 496.72 451.84 498.71 451.44 500.7 451.03 502.68 450.61 504.67 450.19 506.65 449.75 508.63 449.31 510.6 448.85 512.57 448.38 514.54 447.88 516.49 447.35 518.43 446.78 520.36 446.15 522.28 445.46 524.17 444.7 526.05 443.86 527.9 442.92 529.69 441.86 531.36 440.6 532.81 439.07 533.87 437.27 534.14 435.44 533.38 433.75 531.98 432.24 530.38 430.85 528.73 429.59 527.03 428.43 525.29 427.36 523.52 426.37 521.71 425.45 519.88 424.58 518.03 423.76 516.16 422.97 514.29 422.19 512.41 421.43 510.52 420.67 508.63 419.92 506.74 419.18 504.84 418.45 502.94 417.72 501.04 417.01 499.13 416.3 497.22 415.59 495.3 414.9 493.39 414.21 491.47 413.52 489.55 412.84 487.62 412.17 485.7 411.51 483.77 410.85 481.84 410.19 479.91 409.54 477.98 408.9 476.05 408.26 474.12 407.62 472.19 406.99 470.26 406.36 468.33 405.74 466.4 405.12 464.47 404.51 462.54 403.89 460.61 403.29 458.69 402.68 456.76 402.07 454.84 401.44 452.94 400.78 451.04 400.08 449.15 399.32 447.28 398.5 445.43 397.6 443.6 396.6 441.79 395.5 440.04 394.29 438.44 392.96 437.07 391.49 436.02 389.88 435.36 388.13 435.18 386.21 435.54 384.18 436.37 382.17 437.57 380.38 439.08 378.95 440.81 377.84 442.69 376.98 444.65 376.28 446.62 375.69 448.59 375.16 450.57 374.69 452.54 374.26 454.52 373.85 456.5 373.46 458.49 373.07 460.48 372.68 462.47 372.3 464.47 371.93 466.47 371.56 468.47 371.2 470.47 370.84 472.47 370.48 474.48 370.13 476.48 369.78 478.49 369.43 480.5 369.09 482.5 368.75 484.51 368.41 486.51 368.07 488.52 367.74 490.53 367.42 492.53 367.09 494.54 366.77 496.55 366.46 498.56 366.15 500.56 365.85 502.57 365.55 504.58 365.25 506.6 364.97 508.61 364.69 510.62 364.41 512.63 364.15 514.65 363.89 516.66 363.64 518.68 363.39 520.7 363.15 522.71 362.93 524.73 362.71 526.76 362.5 528.78 362.29 530.8 362.1 532.83 361.92 534.85 361.75 536.88 361.58 538.91 361.43 540.94 361.29 542.97 361.16 545.01 361.04" fill="none" stroke="#9a78d4" stroke-width="1.2"/>
<circle cx="324.5" cy="467.9" r="3.45" fill="url(#gr)"/>
<circle cx="336.4" cy="467.3" r="3.45" fill="url(#gr)"/>
<circle cx="347" cy="466.9" r="3.45" fill="url(#gr)"/>
<circle cx="357.9" cy="466.9" r="3.45" fill="url(#gr)"/>
<circle cx="370.3" cy="466.5" r="3.45" fill="url(#gr)"/>
<circle cx="380.5" cy="465.5" r="3.45" fill="url(#gr)"/>
<circle cx="391.7" cy="464" r="3.45" fill="url(#gr)"/>
<circle cx="401.9" cy="461.3" r="3.45" fill="url(#gr)"/>
<circle cx="415.3" cy="459" r="3.45" fill="url(#gr)"/>
<circle cx="426.1" cy="457.6" r="3.45" fill="url(#gr)"/>
<circle cx="446.6" cy="455.1" r="3.45" fill="url(#gr)"/>
<circle cx="457.8" cy="453.2" r="3.45" fill="url(#gr)"/>
<circle cx="468.5" cy="450.9" r="3.45" fill="url(#gr)"/>
<circle cx="479.7" cy="449.7" r="3.45" fill="url(#gr)"/>
<circle cx="492.2" cy="449" r="3.45" fill="url(#gr)"/>
<circle cx="502.7" cy="442.8" r="3.45" fill="url(#gr)"/>
<circle cx="515.3" cy="434.9" r="3.45" fill="url(#gr)"/>
<circle cx="528.4" cy="372.5" r="3.45" fill="url(#gr)"/>
<circle cx="542.6" cy="361.4" r="3.45" fill="url(#gr)"/>
<circle cx="326.6" cy="470.3" r="3.45" fill="url(#gb)"/>
<circle cx="338.3" cy="469.8" r="3.45" fill="url(#gb)"/>
<circle cx="348.9" cy="469.1" r="3.45" fill="url(#gb)"/>
<circle cx="360.8" cy="467.9" r="3.45" fill="url(#gb)"/>
<circle cx="372.5" cy="467.6" r="3.45" fill="url(#gb)"/>
<circle cx="384.1" cy="463.3" r="3.45" fill="url(#gb)"/>
<circle cx="394" cy="461.8" r="3.45" fill="url(#gb)"/>
<circle cx="404.5" cy="461.6" r="3.45" fill="url(#gb)"/>
<circle cx="415.4" cy="461.2" r="3.45" fill="url(#gb)"/>
<circle cx="425.8" cy="459.7" r="3.45" fill="url(#gb)"/>
<circle cx="436.9" cy="455.4" r="3.45" fill="url(#gb)"/>
<circle cx="449.3" cy="448.5" r="3.45" fill="url(#gb)"/>
<circle cx="459" cy="379.5" r="3.45" fill="url(#gb)"/>
<circle cx="469.6" cy="376.8" r="3.45" fill="url(#gb)"/>
<circle cx="480.2" cy="372.5" r="3.45" fill="url(#gb)"/>
<circle cx="490.9" cy="370.1" r="3.45" fill="url(#gb)"/>
<circle cx="501.7" cy="367.5" r="3.45" fill="url(#gb)"/>
<circle cx="513.3" cy="361.6" r="3.45" fill="url(#gb)"/>
<circle cx="522" cy="361.4" r="3.45" fill="url(#gb)"/>
<path d="M465.97 364.44L492.4 358.4" stroke="#2277c0" stroke-width="1.55" stroke-dasharray="4.4 3.0" fill="none"/>
<path d="M460.9 365.6L467.19 360.37L466.75 364.26L468.84 367.58Z" fill="#2277c0"/>
<path d="M444.65 430.81L446.6 401.8" stroke="#2277c0" stroke-width="1.55" stroke-dasharray="4.4 3.0" fill="none"/>
<path d="M444.3 436L441.1 428.47L444.7 430.01L448.48 428.96Z" fill="#2277c0"/>
<path d="M499.14 458.48L472.9 464.6" stroke="#e0202a" stroke-width="1.55" stroke-dasharray="4.4 3.0" fill="none"/>
<path d="M504.2 457.3L497.93 462.56L498.36 458.66L496.25 455.35Z" fill="#e0202a"/>
<path d="M527 390.49L525.4 418.4" stroke="#e0202a" stroke-width="1.55" stroke-dasharray="4.4 3.0" fill="none"/>
<path d="M527.3 385.3L530.58 392.8L526.96 391.29L523.19 392.38Z" fill="#e0202a"/>
<text x="375.1" y="439" font-size="9" font-weight="bold" style="stroke-width:0.08px"><tspan font-style="italic">&#948;</tspan> = 1.7</text>
<rect x="329" y="355.9" width="71.6" height="23.6" fill="#fff" stroke="#d0d0d0" stroke-width="0.8"/>
<circle cx="340.6" cy="362.5" r="3.45" fill="url(#gr)"/>
<circle cx="340.6" cy="373.7" r="3.45" fill="url(#gb)"/>
<text x="353.2" y="365.8" font-size="9.3" text-anchor="start" font-weight="bold" style="stroke-width:0.18px">Upward</text>
<text x="353.2" y="377" font-size="9.3" text-anchor="start" font-weight="bold" style="stroke-width:0.18px">Downward</text>
</svg>
</body></html>
